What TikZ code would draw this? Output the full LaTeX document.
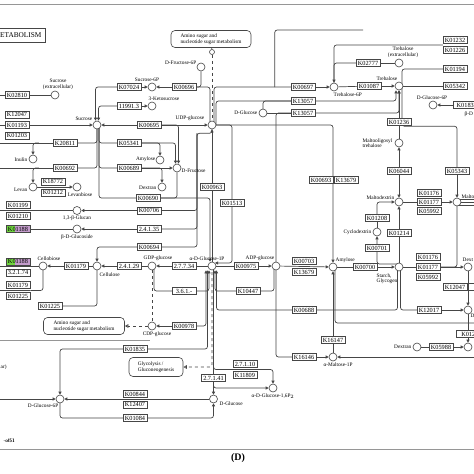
\documentclass[tikz,border=0pt]{standalone}
\usepackage{fontspec}
\setmainfont{Liberation Serif}
\usetikzlibrary{arrows.meta,backgrounds}
\definecolor{lnc}{RGB}{70,70,70}
\definecolor{frm}{RGB}{150,150,150}
\definecolor{hlg}{RGB}{112,212,64}
\definecolor{hlp}{RGB}{196,156,204}

\begin{document}
\begin{tikzpicture}
  [x=1pt,y=-1pt,
   cpd/.style={circle,draw=lnc,fill=white,line width=0.6pt,minimum size=8pt,inner sep=0pt},
   ko/.style={draw=lnc,fill=white,line width=0.5pt,minimum width=24pt,minimum height=7pt,inner sep=0.4pt,font=\fontsize{6.3}{6.5}\selectfont},
   hl/.style={ko,fill=hlp,path picture={\fill[hlg] (path picture bounding box.south west) rectangle ([xshift=9pt]path picture bounding box.north west);}},
   mapbox/.style={draw=lnc,fill=white,rounded corners=4pt,line width=0.6pt,align=left,inner sep=1.5pt,font=\fontsize{5.3}{5.8}\selectfont},
   lbl/.style={inner sep=0.5pt,align=center,font=\fontsize{5.3}{5.6}\selectfont},
   ln/.style={draw=lnc,line width=0.7pt,rounded corners=2.5pt},
   dsh/.style={ln,dashed},
   opn/.style={-{Triangle[open,length=3.5pt,width=3.5pt]}},
   >={Triangle[length=3pt,width=3pt]}]
  \useasboundingbox (0,0) rectangle (474,474);

  \draw[frm,line width=1pt] (0,4) -- (474,4);
  \draw[frm,line width=1pt] (0,340) -- (150,340);
  \draw[frm,line width=1pt] (0,449) -- (474,449);

  \node[draw=lnc,fill=white,anchor=east,minimum width=48pt,minimum height=14pt,inner xsep=2pt,font=\fontsize{7.3}{8}\selectfont] (ttl) at (45,35) {ETABOLISM};
  \node[mapbox,minimum width=80pt,minimum height=17pt] (mamn) at (211,39) {Amino sugar and\\nucleotide sugar metabolism};
  \node[mapbox,minimum width=81pt,minimum height=17pt] (mamn2) at (84,326) {Amino sugar and\\nucleotide sugar metabolism};
  \node[mapbox,minimum width=54pt,minimum height=19pt] (mgly) at (156,367) {Glycolysis /\\Gluconeogenesis};

  \node[cpd] (sucx) at (55,95) {};
  \node[cpd] (suc) at (97,125) {};
  \node[cpd] (suc6p) at (152,87) {};
  \node[cpd] (ksuc) at (152,106) {};
  \node[cpd] (frc6p) at (201,67) {};
  \node[cpd] (udpg) at (212,125) {};
  \node[cpd,minimum size=5pt] (amn) at (212,52) {};
  \node[cpd] (glc) at (263,113) {};
  \node[cpd] (tre6p) at (334,87) {};
  \node[cpd] (trex) at (399,63) {};
  \node[cpd] (tre) at (399,86) {};
  \node[cpd] (g6pt) at (433,105) {};
  \node[cpd] (mtre) at (399,143) {};
  \node[cpd] (mdex) at (399,202) {};
  \node[cpd] (mal) at (457,202) {};
  \node[cpd] (cyc) at (377,232) {};
  \node[cpd] (star) at (399,267) {};
  \node[cpd] (amy) at (333,267) {};
  \node[cpd] (dext) at (468,267) {};
  \node[cpd] (glcr) at (468,310) {};
  \node[cpd] (isom) at (468,347) {};
  \node[cpd] (dxn) at (417,347) {};
  \node[cpd] (m1p) at (333,357) {};
  \node[cpd] (adpg) at (276,266) {};
  \node[cpd] (g1p) at (212,266) {};
  \node[cpd] (gdpg) at (152,266) {};
  \node[cpd] (cell) at (97,266) {};
  \node[cpd] (cbio) at (43,266) {};
  \node[cpd] (cdpg) at (152,326) {};
  \node[cpd] (inul) at (33,159) {};
  \node[cpd] (levan) at (33,187) {};
  \node[cpd] (levb) at (77,187) {};
  \node[cpd] (bgln) at (77,210.5) {};
  \node[cpd] (bgls) at (77,229) {};
  \node[cpd] (amyl) at (160,160) {};
  \node[cpd] (dxnl) at (162,187) {};
  \node[cpd] (frc) at (177,168) {};
  \node[cpd] (g16p) at (273,388) {};
  \node[cpd] (glcb) at (213.5,399) {};
  \node[cpd] (g6p) at (60,399) {};

  \node[lbl,anchor=south] (lsucx) at (58,90) {Sucrose\\(extracellular)};
  \node[lbl,anchor=south east] (lsuc) at (93,121) {Sucrose};
  \node[lbl,anchor=south] (lsuc6p) at (147,82) {Sucrose-6P};
  \node[lbl,anchor=south west] (lksuc) at (148,101) {3-Ketosucrose};
  \node[lbl,anchor=east] (lfrc6p) at (197,63) {D-Fructose-6P};
  \node[lbl,anchor=east] (ludpg) at (205,118) {UDP-glucose};
  \node[lbl,anchor=east] (lglc) at (258,113) {D-Glucose};
  \node[lbl,anchor=north west] (ltre6p) at (333,92) {Trehalose-6P};
  \node[lbl,anchor=south] (ltrex) at (403,58) {Trehalose\\(extracellular)};
  \node[lbl,anchor=south east] (ltre) at (398,81) {Trehalose};
  \node[lbl,anchor=south] (lg6pt) at (432,100) {D-Glucose-6P};
  \node[lbl,anchor=north west] (lbd) at (464,111) {β-D};
  \node[lbl,anchor=east,align=left] (lmtre) at (393,143) {Maltooligosyl\\trehalose};
  \node[lbl,anchor=south east] (lmdex) at (395,200) {Maltodextrin};
  \node[lbl,anchor=south west] (lmal) at (461,199) {Malto};
  \node[lbl,anchor=east] (lcyc) at (372,232) {Cyclodextrin};
  \node[lbl,anchor=north east,align=left] (lstar) at (398,273) {Starch,\\Glycogen};
  \node[lbl,anchor=south west] (lamy) at (335,263) {Amylose};
  \node[lbl,anchor=south west] (ldext) at (462,262) {Dext};
  \node[lbl,anchor=north west] (lglcr) at (470,313) {D};
  \node[lbl,anchor=east] (ldxn) at (412,347) {Dextran};
  \node[lbl,anchor=north] (lm1p) at (338,362) {α-Maltose-1P};
  \node[lbl,anchor=south east] (ladpg) at (275,261) {ADP-glucose};
  \node[lbl,anchor=south] (lg1p) at (207,261) {α-D-Glucose-1P};
  \node[lbl,anchor=south] (lgdpg) at (158,261) {GDP-glucose};
  \node[lbl,anchor=north west] (lcell) at (99,272) {Cellulose};
  \node[lbl,anchor=south] (lcbio) at (49,261) {Cellobiose};
  \node[lbl,anchor=north] (lcdpg) at (157,331) {CDP-glucose};
  \node[lbl,anchor=east] (linul) at (28,160) {Inulin};
  \node[lbl,anchor=east] (llevan) at (28,190) {Levan};
  \node[lbl,anchor=north] (llevb) at (80,192) {Levanbiose};
  \node[lbl,anchor=north] (lbgln) at (77,215) {1,3-β-Glucan};
  \node[lbl,anchor=north] (lbgls) at (77,234) {β-D-Glucoside};
  \node[lbl,anchor=east] (lamyl) at (156,159) {Amylose};
  \node[lbl,anchor=east] (ldxnl) at (157,188) {Dextran};
  \node[lbl,anchor=north west] (lfrc) at (181,168) {D-Fructose};
  \node[lbl,anchor=north] (lg16p) at (273,393) {α-D-Glucose-1,6P$_2$};
  \node[lbl,anchor=west] (lglcb) at (219,404) {D-Glucose};
  \node[lbl,anchor=north east] (lg6p) at (59,403) {D-Glucose-6P};
  \node[lbl,anchor=west] (lar) at (0,367) {ar)};

  \node[ko] (k02810) at (17,95) {K02810};
  \node[ko] (k12047a) at (17,114.5) {K12047};
  \node[ko] (k01193) at (17,125) {K01193};
  \node[ko] (k01203) at (17,135.5) {K01203};
  \node[ko] (k07024) at (129,87) {K07024};
  \node[ko] (k11991) at (129,106) {11991.3};
  \node[ko] (k00695) at (149,125) {K00695};
  \node[ko] (k00696) at (184,87) {K00696};
  \node[ko] (k00697) at (303,87) {K00697};
  \node[ko] (k13057a) at (303,101) {K13057};
  \node[ko] (k13057b) at (303,113) {K13057};
  \node[ko] (k02777) at (368,63) {K02777};
  \node[ko] (k01087) at (369,86) {K01087};
  \node[ko] (k01232) at (455,40) {K01232};
  \node[ko] (k01226) at (455,50) {K01226};
  \node[ko] (k01194) at (455,69) {K01194};
  \node[ko] (k05342) at (455,86) {K05342};
  \node[ko,anchor=west] (k01838) at (453,105) {K0183};
  \node[ko] (k01236) at (399,122) {K01236};
  \node[ko] (k06044) at (399,171) {K06044};
  \node[ko] (k05343) at (457,171) {K05343};
  \node[ko] (k00693) at (321,180) {K00693};
  \node[ko] (k13679a) at (346,180) {K13679};
  \node[ko] (k01176a) at (429,193) {K01176};
  \node[ko] (k01177a) at (429,202) {K01177};
  \node[ko] (k05992a) at (429,211) {K05992};
  \node[ko] (k01208) at (377,218) {K01208};
  \node[ko] (k01214) at (399,233) {K01214};
  \node[ko] (k00701) at (377,248) {K00701};
  \node[ko] (k00700) at (365,267) {K00700};
  \node[ko] (k01176b) at (428,257) {K01176};
  \node[ko] (k01177b) at (428,267) {K01177};
  \node[ko] (k05992b) at (428,277) {K05992};
  \node[ko] (k12047b) at (455,287) {K12047};
  \node[ko,anchor=west] (kxr) at (468,287) {};
  \node[ko] (k12017) at (429,310) {K12017};
  \node[ko,anchor=west] (k01200) at (456,334) {K012};
  \node[ko] (k05988) at (441,347) {K05988};
  \node[ko] (k16147) at (333,340) {K16147};
  \node[ko] (k16146) at (304,357) {K16146};
  \node[ko] (k00688) at (304,310) {K00688};
  \node[ko] (k00703) at (304,261) {K00703};
  \node[ko] (k13679b) at (304,272) {K13679};
  \node[ko] (k00975) at (246,266) {K00975};
  \node[ko] (k10447) at (248,291) {K10447};
  \node[ko] (e27734) at (184,266) {2.7.7.34};
  \node[ko] (e3161) at (184,291) {3.6.1.-};
  \node[ko] (k00978) at (184,326) {K00978};
  \node[ko] (e27110) at (245,364) {2.7.1.10};
  \node[ko] (k11809) at (245,375) {K11809};
  \node[ko] (e27141) at (213.5,378) {2.7.1.41};
  \node[ko] (k01835) at (135,349) {K01835};
  \node[ko] (k00844) at (135,394) {K00844};
  \node[ko] (k12407) at (135,404.5) {K12407};
  \node[ko] (k01084) at (135,418) {K01084};
  \node[ko] (k01513) at (232,203) {K01513};
  \node[ko] (k00963) at (212,187) {K00963};
  \node[ko] (k20811) at (65,143) {K20811};
  \node[ko] (k00692) at (65,168) {K00692};
  \node[ko] (k18772) at (53,181.5) {K18772};
  \node[ko] (k01212) at (53,192.5) {K01212};
  \node[ko] (k01199) at (18,205) {K01199};
  \node[ko] (k01210) at (18,216) {K01210};
  \node[hl] (k01188a) at (18,229) {K01188};
  \node[hl] (k01188b) at (18,261.5) {K01188};
  \node[ko] (e32174) at (18,272.5) {3.2.1.74};
  \node[ko] (k01179a) at (18,285) {K01179};
  \node[ko] (k01225a) at (18,296) {K01225};
  \node[ko] (k05341) at (129,143) {K05341};
  \node[ko] (k00689) at (129,168) {K00689};
  \node[ko] (k00690) at (148,198) {K00690};
  \node[ko] (k00706) at (149,210.5) {K00706};
  \node[ko] (e24135) at (149,229) {2.4.1.35};
  \node[ko] (k00694) at (149,247) {K00694};
  \node[ko] (e24129) at (129,266) {2.4.1.29};
  \node[ko] (k01179b) at (76,266) {K01179};
  \node[ko] (k01225b) at (50,306) {K01225};

  \node[anchor=west,font=\sffamily\bfseries\fontsize{5}{6}\selectfont] (tag) at (0,441) {-ol51};
  \node[font=\bfseries\fontsize{10}{12}\selectfont] (cap) at (238,458) {(D)};

  \begin{scope}[on background layer]
    \fill[white] (0,0) rectangle (474,474);
    % sucrose
    \draw[ln] (k02810.west) -- ++(-20,0);
    \draw[ln] (k02810) -- (sucx);
    \draw[ln] (k01193.west) -- ++(-20,0);
    \draw[ln,->] (k01193) -- (suc);
    \draw[ln,->] (k07024) -- (suc6p);
    \draw[ln,->] (k07024.west) -| ([xshift=-1.5pt]suc.north);
    \draw[ln,->] (k11991) -- (ksuc);
    \draw[ln,->] (k11991.west) -| ([xshift=1.5pt]suc.north);
    \draw[ln,->] (k00695) -- (suc);
    \draw[ln,->] (k00695) -- (udpg);
    \draw[ln,->] (k00695.east) -| ([xshift=1.5pt]frc.north);
    \draw[ln,->] (k00696) -- (suc6p);
    \draw[ln] (frc6p.south) |- (k00696.east);
    \draw[ln] ([xshift=-2pt]udpg.center) |- (k00696.east);
    \draw[ln] (mamn) -- (amn);
    \draw[dsh] (amn) -- (udpg);
    % trehalose
    \draw[ln] ([xshift=2pt]udpg.center) |- (k00697.west);
    \draw[ln,->] (k00697) -- (tre6p);
    \coordinate (topend) at (363,30);
    \draw[ln] (topend) -| ([xshift=-16pt]k00697.west);
    \draw[ln] ([xshift=4pt]udpg.center) |- (k13057a.west);
    \draw[ln] (glc.center) |- (k13057a.west);
    \draw[ln,->] (k13057a.east) -| ([xshift=-3pt]tre.south);
    \draw[ln] (glc) -- (k13057b);
    \draw[ln] (adpg.center) |- (k13057b.west);
    \draw[ln,->] (k13057b.east) -| (tre.south);
    \draw[ln] (mtre) -- (k01236);
    \draw[ln,->] (k01236) -- (tre);
    \draw[ln] ([xshift=3pt]tre.center) |- ([yshift=41pt]k05343.north) -- (k05343);
    \draw[ln,->] (k05343) -- (mal);
    \draw[ln] (tre) -- (k05342);
    \draw[ln] (k01194.west) -| ([xshift=3pt]tre.center);
    \draw[ln] (tre6p) -- (k01087);
    \draw[ln,->] (k01087) -- (tre);
    \draw[ln] (trex) -- (k02777);
    \draw[ln,->] (k02777.west) -| (tre6p.north);
    \draw[ln] ([yshift=-5pt]k01232.west) -| (tre6p.north);
    \draw[ln,->] (k01838) -- (g6pt);
    % maltodextrin and starch
    \draw[ln,<->] (mtre) -- (mdex);
    \draw[ln,->] (mdex) -- (mal);
    \draw[ln] (cyc) -- (k01208);
    \draw[ln,->] (k01208.north) |- (mdex.west);
    \draw[ln,->] ([yshift=3pt]star.center) -| (cyc.south);
    \draw[ln,->] (star) -- (mdex);
    \draw[ln,->] (amy) -- (star);
    \draw[ln,->] (adpg) -- (amy);
    \draw[ln,->] (udpg.center) -| (amy.north);
    \draw[ln,->] (m1p) -- (amy);
    \draw[ln] ([xshift=2pt]amy.center) |- ++(142,56);
    \draw[ln,->] (m1p.east) ++(142,0) -- (m1p);
    \draw[ln] (adpg.center) |- (k16146.west);
    \draw[ln,->] (k16146) -- (m1p);
    \draw[ln] ([xshift=-1.5pt]star.center) |- (k00688.east);
    \draw[ln,->] (k00688.west) -| ([xshift=4.5pt]g1p.south);
    \draw[ln] ([xshift=1.5pt]star.center) |- (k12017.west);
    \draw[ln,->] (k12017) -- (glcr);
    \draw[ln] (star) -- (k01177b);
    \draw[ln,->] (k01177b) -- (dext);
    \draw[ln] (mal.center) |- (k01177b.east);
    \foreach \dy in {-3,0,3}
      \draw[ln] ([yshift=\dy pt]mal.center) -- ++(25,0);
    \draw[ln,->] (dext) -- (glcr);
    \draw[ln] (glcr) -- (glcr |- k01200.north);
    \draw[ln,->] (glcr |- k01200.south) -- (isom);
    \draw[ln] (dxn) -- (k05988);
    \draw[ln,->] (k05988) -- (isom);
    % fructans, glucans
    \draw[ln] (k20811.west) -- ++(-60,0);
    \draw[ln] (k20811.east) -| (suc.center);
    \draw[ln,->] ([xshift=-14pt]k20811.west) -| (inul.north);
    \draw[ln] (k00692.west) -- ++(-60,0);
    \draw[ln] (k00692.east) -| (suc.center);
    \draw[ln,->] ([xshift=-14pt]k00692.west) -| (levan.north);
    \draw[ln,->] (levan) -- (levb);
    \draw[ln] (bgln) -- ++(-80,0);
    \draw[ln,->] (k00706) -- (bgln);
    \draw[ln] (k00706.east) -| ([xshift=-15pt,yshift=-4pt]udpg.south) -| (udpg.center);
    \draw[ln] (k01188a) -- (bgls);
    \draw[ln,->] (e24135) -- (bgls);
    \draw[ln] (e24135.east) -| ([xshift=-15pt,yshift=-4pt]udpg.south);
    \draw[ln] (k00694.east) -| ([xshift=-15pt,yshift=-4pt]udpg.south);
    \draw[ln,->] (k00694.west) -| (cell.north);
    \draw[ln] (gdpg) -- (e24129);
    \draw[ln,->] (e24129) -- (cell);
    \draw[ln] (cell) -- (k01179b);
    \draw[ln,->] (k01179b) -- (cbio);
    \draw[ln] (cbio) -- ++(-45,0);
    \draw[ln] ([yshift=-5.5pt]k01179a.east) -| (cbio.center);
    \draw[ln] ([yshift=-5.5pt]k01179a.east) -- ++(-30,0);
    \draw[ln] (cell.center) |- (k01225b.east);
    \draw[ln] ([xshift=2pt]suc.center) |- (k05341.west);
    \draw[ln,->] (k05341.east) -| (amyl.north);
    \draw[ln,->] (k05341.east) -| ([xshift=-1.5pt]frc.north);
    \draw[ln] ([xshift=2pt]suc.center) |- (k00689.west);
    \draw[ln,->] (k00689.east) -| (dxnl.north);
    \draw[ln,->] (k00689) -- (frc);
    \draw[ln] ([xshift=2pt]suc.center) |- (k00690.west);
    \draw[ln] (k00690.east) -| (frc.south);
    \draw[ln,->] (k00690.east) -| ([xshift=-2pt]g1p.north);
    \draw[ln] (g1p) -- (k00963);
    \draw[ln,->] (k00963) -- (udpg);
    \draw[ln] (udpg.center) -| (k01513.north);
    \draw[ln,->] (k01513.south) |- (g1p.north east);
    % nucleotide sugars, glucose phosphates
    \draw[dsh] (gdpg) -- (cdpg);
    \draw[dsh,opn] (cdpg) -- (mamn2);
    \draw[ln,->] (k00978) -- (cdpg);
    \draw[ln,->] (k00978.east) -| ([xshift=-6pt]g1p.south);
    \draw[ln] ([xshift=2pt]gdpg.center) |- (e3161.west);
    \draw[ln,->] (e3161.east) -| ([xshift=-3pt]g1p.south);
    \draw[ln] (g1p) -- (e27734);
    \draw[ln,->] (e27734) -- (gdpg);
    \draw[ln] (g1p) -- (k00975);
    \draw[ln,->] (k00975) -- (adpg);
    \draw[ln] ([xshift=-2pt]adpg.center) |- (k10447.east);
    \draw[ln,->] (k10447.west) -| ([xshift=3pt]g1p.south);
    \draw[ln,->] (k01835.west) -| (g6p.north);
    \draw[ln,->] (k01835.east) -| ([xshift=-4.5pt]g1p.south);
    \draw[dsh,opn] (g1p.center) |- (mgly.east);
    \draw[ln,->] ([xshift=1.5pt]g1p.center) |- ([yshift=5.5pt]k11809.west) -| (g16p.north);
    \draw[ln] ([xshift=1.5pt]g1p.center) -- (e27141);
    \draw[ln,->] (e27141) -- (glcb);
    \draw[ln,->] (e27141.south) |- (g16p.west);
    \draw[ln,->] (glcb) -- (g6p);
    \draw[ln,->] (g6p.west) ++(-62,0) -- (g6p);
    \draw[ln] (g6p.center) |- (k01084.west);
    \draw[ln,->] (k01084.east) -| (glcb.south);
  \end{scope}
\end{tikzpicture}
\end{document}
